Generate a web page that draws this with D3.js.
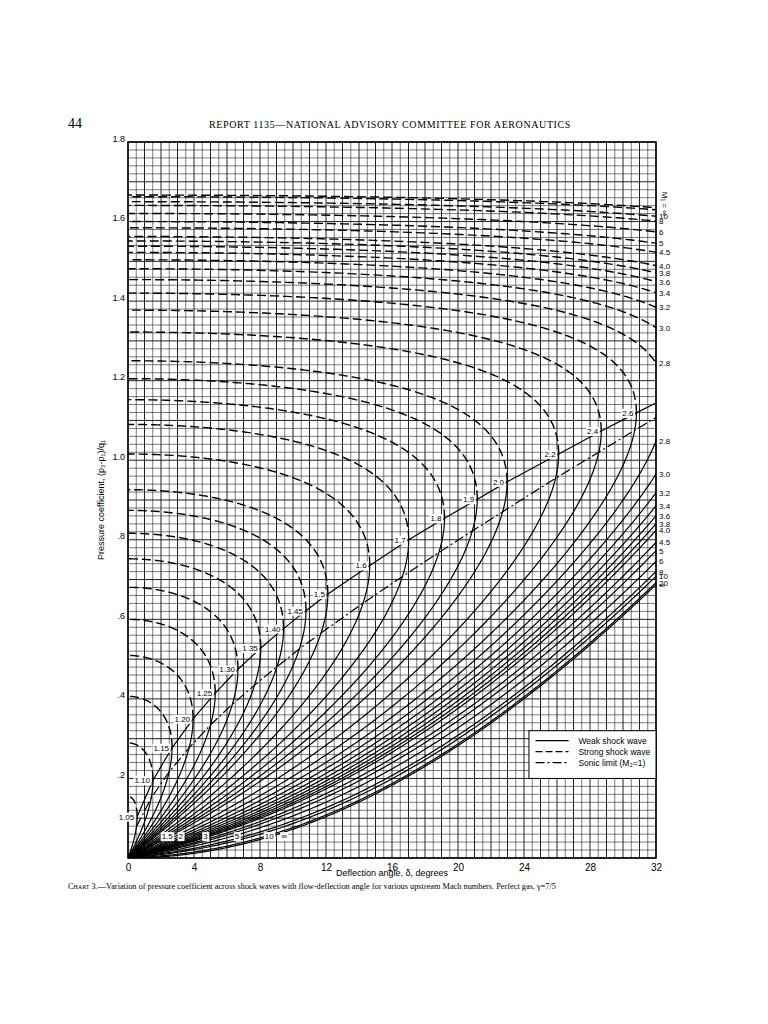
<!DOCTYPE html>
<html><head><meta charset="utf-8">
<script src="https://cdn.jsdelivr.net/npm/d3@7"></script>
<style>body{margin:0;background:#fff}svg{display:block}</style>
</head><body>
<script>
// ---- data ----
const gamma = 1.4;
const machNumbers = [1.05,1.10,1.15,1.20,1.25,1.30,1.35,1.40,1.45,1.5,1.6,1.7,1.8,1.9,2.0,2.2,2.4,2.6,2.8,3.0,3.2,3.4,3.6,3.8,4.0,4.5,5,6,8,10,20,1e6];
const locusLabels = ["1.05","1.10","1.15","1.20","1.25","1.30","1.35","1.40","1.45","1.5","1.6","1.7","1.8","1.9","2.0","2.2","2.4","2.6"];
const rightMachs = [2.8,3.0,3.2,3.4,3.6,3.8,4.0,4.5,5,6,8,10,20,1e6];
const rightLabels = ["2.8","3.0","3.2","3.4","3.6","3.8","4.0","4.5","5","6","8","10","20","\u221e"];
const bottomMachs = [1.5,2,3,5,10,1e6];
const bottomLabels = ["1.5","2","3","5","10","\u221e"];
const xTicks = [0,4,8,12,16,20,24,28,32];
const yTicks = [0.2,0.4,0.6,0.8,1.0,1.2,1.4,1.6,1.8];
const yTickLabels = [".2",".4",".6",".8","1.0","1.2","1.4","1.6","1.8"];

// oblique-shock relations
function delta(M,b){const s=Math.sin(b);return Math.atan(2/Math.tan(b)*(M*M*s*s-1)/(M*M*(gamma+Math.cos(2*b))+2))*180/Math.PI;}
function cp(M,b){const s=Math.sin(b);return 4*(M*M*s*s-1)/((gamma+1)*M*M);}
function m2(M,b){const s=Math.sin(b),mn=M*M*s*s;const mn2=(mn*(gamma-1)+2)/(2*gamma*mn-(gamma-1));const d=delta(M,b)*Math.PI/180;return Math.sqrt(mn2)/Math.sin(b-d);}
function curve(M){const mu=Math.asin(1/M);const pts=[];const N=600;for(let i=0;i<=N;i++){const b=mu+(Math.PI/2-mu)*i/N;pts.push({b,d:delta(M,b),c:cp(M,b)});}
 let k=0;pts.forEach((p,i)=>{if(p.d>pts[k].d)k=i;});
 let s=0;for(let i=1;i<pts.length;i++){if(m2(M,pts[i].b)<1){s=i;break;}}
 return {weak:pts.slice(0,k+1),strong:pts.slice(k),max:pts[k],sonic:pts[s]||pts[k]};}
const curves = machNumbers.map(M=>({M,...curve(M)}));

// ---- layout ----
const W=768,H=1024;
const svg=d3.select("body").append("svg").attr("width",W).attr("height",H);
const x=d3.scaleLinear().domain([0,32]).range([128,656]);
const y=d3.scaleLinear().domain([0,1.8]).range([858,142]);
const font="Liberation Sans, Arial, sans-serif";

// grid
const g=svg.append("g");
for(let i=0;i<=64;i++){const v=i/2;g.append("line").attr("x1",x(v)).attr("x2",x(v)).attr("y1",y(0)).attr("y2",y(1.8)).attr("stroke","#222").attr("stroke-width",i%2?0.6:1.0);}
for(let i=0;i<=90;i++){const v=i*0.02;g.append("line").attr("y1",y(v)).attr("y2",y(v)).attr("x1",x(0)).attr("x2",x(32)).attr("stroke","#222").attr("stroke-width",i%5?0.6:1.0);}
g.append("rect").attr("x",x(0)).attr("y",y(1.8)).attr("width",x(32)-x(0)).attr("height",y(0)-y(1.8)).attr("fill","none").attr("stroke","#000").attr("stroke-width",1.5);

svg.append("clipPath").attr("id","c").append("rect").attr("x",x(0)).attr("y",y(1.8)).attr("width",x(32)-x(0)).attr("height",y(0)-y(1.8));
const cg=svg.append("g").attr("clip-path","url(#c)");
const line=d3.line().x(p=>x(p.d)).y(p=>y(p.c));
curves.forEach(c=>{
 cg.append("path").attr("d",line(c.weak)).attr("fill","none").attr("stroke","#000").attr("stroke-width",1.2);
 cg.append("path").attr("d",line(c.strong)).attr("fill","none").attr("stroke","#000").attr("stroke-width",1.4).attr("stroke-dasharray","9,4");
});
cg.append("path").attr("d",line(curves.map(c=>c.max))).attr("fill","none").attr("stroke","#000").attr("stroke-width",1.2);
cg.append("path").attr("d",line(curves.map(c=>c.sonic))).attr("fill","none").attr("stroke","#000").attr("stroke-width",1.2).attr("stroke-dasharray","10,3,2,3");

// axes
const xa=svg.append("g").attr("transform",`translate(0,${y(0)})`).call(d3.axisBottom(x).tickValues(xTicks).tickSize(0).tickPadding(6));
xa.select(".domain").remove();xa.selectAll("text").attr("font-family",font).attr("font-size",10).attr("fill","#000");
const ya=svg.append("g").attr("transform",`translate(${x(0)},0)`).call(d3.axisLeft(y).tickValues(yTicks).tickFormat((d,i)=>yTickLabels[i]).tickSize(0).tickPadding(3));
ya.select(".domain").remove();ya.selectAll("text").attr("font-family",font).attr("font-size",9).attr("fill","#000").attr("dy","-0.1em");

// boxed label helper
const lab=svg.append("g");
function boxed(px,py,txt,anchor){
 const t=lab.append("text").attr("x",px).attr("y",py).attr("text-anchor",anchor).attr("font-family",font).attr("font-size",8).text(txt);
 const bb=t.node().getBBox();
 lab.insert("rect",()=>t.node()).attr("x",bb.x-1).attr("y",bb.y).attr("width",bb.width+2).attr("height",bb.height).attr("fill","#fff");
}
curves.slice(0,locusLabels.length).forEach((c,i)=>boxed(x(c.max.d)-3,y(c.max.c)+3,locusLabels[i],"end"));

function cpAt(pts,d){for(let i=1;i<pts.length;i++){const a=pts[i-1],b=pts[i];if((a.d-d)*(b.d-d)<=0){const t=(d-a.d)/(b.d-a.d||1);return a.c+t*(b.c-a.c);}}return null;}
rightMachs.forEach((M,i)=>{const c=curve(M);
 [cpAt(c.strong,32),cpAt(c.weak,32)].forEach(v=>{if(v!=null&&v<1.62)svg.append("text").attr("x",x(32)+3).attr("y",y(v)+3).attr("font-family",font).attr("font-size",8).text(rightLabels[i]);});
});
svg.append("text").attr("transform",`translate(${x(32)+6},${y(1.675)}) rotate(90)`).attr("font-family",font).attr("font-size",8).text("M\u2081 = \u221e");
bottomMachs.forEach((M,i)=>{const c=curve(M);let d=0;for(const p of c.weak){if(p.c>=0.06){d=p.d;break;}}
 boxed(x(d)+3,y(0.055)+3,bottomLabels[i],"start");});

// legend
const lg=svg.append("g");
lg.append("rect").attr("x",x(24.3)).attr("y",y(0.32)).attr("width",x(32)-x(24.3)).attr("height",y(0.2)-y(0.32)).attr("fill","#fff").attr("stroke","#000");
[["Weak shock wave",null],["Strong shock wave","7,3"],["Sonic limit (M\u2082=1)","9,3,2,3"]].forEach((r,i)=>{
 const yy=y(0.32)+10+i*11;
 lg.append("line").attr("x1",x(24.7)).attr("x2",x(26.7)).attr("y1",yy).attr("y2",yy).attr("stroke","#000").attr("stroke-width",1.2).attr("stroke-dasharray",r[1]);
 lg.append("text").attr("x",x(27.3)).attr("y",yy+3).attr("font-family",font).attr("font-size",8.5).text(r[0]);
});

// titles
svg.append("text").attr("x",x(16)).attr("y",876).attr("text-anchor","middle").attr("font-family",font).attr("font-size",9).text("Deflection angle, \u03b4, degrees");
const yl=svg.append("text").attr("transform",`translate(104,${y(0.9)}) rotate(-90)`).attr("text-anchor","middle").attr("font-family",font).attr("font-size",9);
yl.append("tspan").text("Pressure coefficient,  ");
yl.append("tspan").text("(p\u2082-p\u2081)/q\u2081");
svg.append("text").attr("x",68).attr("y",128).attr("font-family","Liberation Serif, serif").attr("font-size",14).text("44");
svg.append("text").attr("x",390).attr("y",128).attr("text-anchor","middle").attr("font-family","Liberation Serif, serif").attr("font-size",10).attr("letter-spacing",0.6).text("REPORT 1135\u2014NATIONAL ADVISORY COMMITTEE FOR AERONAUTICS");
const cap=svg.append("text").attr("x",68).attr("y",889).attr("font-family","Liberation Serif, serif").attr("font-size",8.3);
cap.append("tspan").attr("font-variant","small-caps").text("Chart 3.");
cap.append("tspan").text("\u2014Variation of pressure coefficient across shock waves with flow-deflection angle for various upstream Mach numbers.   Perfect gas, \u03b3=7/5");
</script>
</body></html>
